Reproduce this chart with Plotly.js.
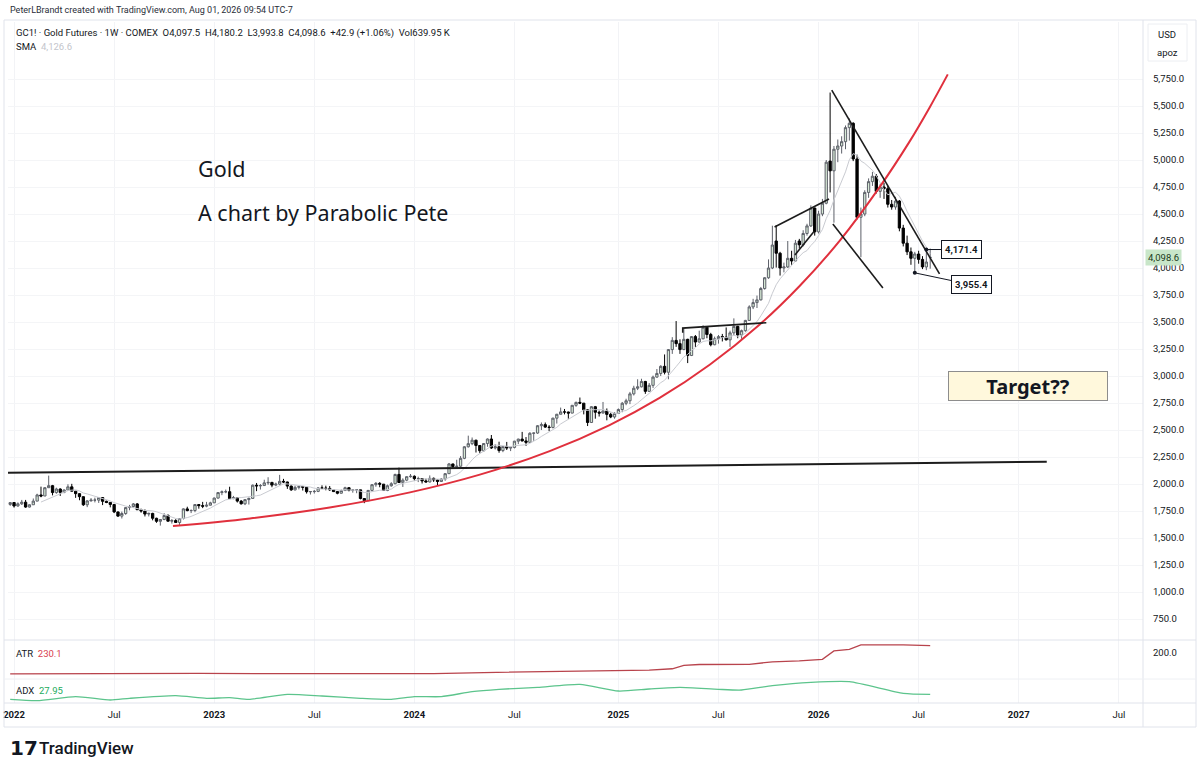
<!DOCTYPE html>
<html><head><meta charset="utf-8">
<script src="https://cdn.plot.ly/plotly-3.0.1.min.js"></script>
<style>html,body{margin:0;padding:0;background:#fff;}#chart{width:1200px;height:772px;}</style>
</head><body><div id="chart"></div>
<script>
// ---------- DATA (weekly GC1! candles, first bar week of 2021-12-27) ----------
const firstWeek = '2021-12-27';
const opens = [
1811,
1829,1797,1817,1832,1787,1808,1842,1899,1889,1966,1985,1921,1954,1923,1945,1974,1934,1911,1883,1808,1844,1851,1851,1875,1840,1830,1811,1742,1703,1727,1782,1792,1816,1762,1750,1722,1728,1683,1655,1672,1709,1656,1662,1644,1681,1770,1754,1755,1810,1800,1795,1804,
1826,1870,1921,1928,1929,1865,1874,1842,1817,1856,1867,1989,1983,1986,2011,2015,1990,1999,2025,2019,1981,1946,1969,1977,1970,1929,1930,1932,1964,1962,1960,1946,1930,1915,1940,1966,1942,1945,1946,1866,1845,1941,1994,2006,1999,1940,1984,2003,2089,2014,2036,2068,
2072,2050,2051,2029,2019,2053,2038,2024,2046,2096,2186,2161,2165,2238,2345,2374,2406,2357,2308,2375,2417,2334,2345,2310,2348,2333,2339,2397,2416,2399,2386,2470,2472,2540,2550,2527,2524,2610,2646,2668,2667,2657,2729,2756,2749,2687,2570,2716,2665,2657,2676,2645,2621,
2654,2690,2748,2771,2835,2887,2900,2950,2858,2914,2990,3024,3090,3035,3245,3330,3300,3245,3340,3190,3365,3315,3345,3452,3385,3290,3345,3365,3360,3335,3400,3460,3380,3420,3515,3640,3680,3705,3810,3910,4000,4250,4137,4000,4010,4090,4065,4250,4215,4320,4390,4555,
4335,4500,4600,4990,4900,5100,5130,5170,5300,5340,5010,4470,4500,4700,4800,4850,4710,4750,4735,4590,4565,4620,4370,4230,4150,4090,4130,4080,4010,4097.5
];
const highs = [
1831,
1830,1830,1853,1853,1812,1866,1910,1976,1970,2078,1992,1966,1960,1950,1998,2002,1935,1915,1885,1850,1870,1874,1877,1880,1847,1832,1813,1745,1745,1784,1807,1824,1824,1772,1765,1735,1734,1688,1675,1730,1720,1676,1675,1683,1775,1790,1765,1815,1815,1835,1835,1836,
1875,1925,1940,1949,1975,1890,1880,1852,1859,1875,1996,2010,2000,2040,2063,2020,2013,2085,2048,2022,1986,1985,1985,1983,1972,1935,1945,1970,1988,1985,1982,1950,1935,1949,1975,1970,1953,1950,1946,1870,1945,2000,2019,2018,2000,1995,2017,2095,2152,2053,2071,2093,
2080,2068,2055,2050,2080,2060,2040,2055,2100,2195,2188,2225,2259,2350,2448,2431,2410,2360,2380,2422,2454,2370,2392,2350,2390,2345,2400,2420,2483,2435,2480,2475,2546,2570,2570,2545,2614,2650,2708,2695,2670,2730,2763,2801,2750,2690,2720,2723,2680,2760,2700,2660,2665,
2700,2760,2790,2853,2910,2970,2975,2955,2935,3004,3065,3100,3200,3250,3360,3509,3340,3440,3345,3370,3380,3420,3470,3455,3400,3365,3380,3390,3450,3420,3534,3465,3430,3520,3655,3715,3745,3825,3915,4080,4392,4398,4150,4050,4250,4160,4260,4270,4350,4410,4580,4560,
4530,4640,5000,5625,5130,5190,5220,5320,5385,5350,5050,4560,4720,4830,4890,4870,4780,4790,4760,4630,4660,4630,4400,4300,4190,4150,4160,4110,4171.4,4180.2
];
const lows = [
1798,
1782,1790,1806,1780,1783,1807,1842,1878,1889,1964,1895,1910,1890,1915,1945,1931,1872,1850,1797,1786,1838,1830,1825,1805,1823,1784,1731,1696,1681,1715,1757,1782,1760,1735,1700,1700,1664,1641,1615,1665,1654,1634,1640,1616,1672,1748,1731,1739,1772,1777,1785,1801,
1825,1865,1897,1915,1862,1860,1829,1810,1805,1810,1867,1934,1949,1986,1993,1970,1980,1988,2010,1955,1937,1940,1950,1940,1912,1903,1912,1925,1958,1942,1937,1926,1905,1913,1935,1932,1920,1915,1858,1823,1845,1930,1975,1970,1936,1934,1975,1998,2012,1973,2026,2059,
2030,2018,2005,2016,2015,2020,1985,2020,2030,2095,2150,2150,2160,2230,2338,2360,2292,2285,2300,2345,2325,2320,2290,2295,2315,2305,2330,2370,2395,2353,2380,2400,2465,2500,2520,2490,2515,2560,2645,2645,2605,2655,2715,2740,2645,2537,2565,2605,2625,2655,2590,2610,2605,
2650,2665,2730,2740,2820,2870,2895,2835,2855,2890,2985,3000,3015,2970,3205,3270,3205,3240,3120,3185,3270,3310,3340,3350,3275,3285,3300,3320,3330,3270,3380,3350,3345,3410,3510,3620,3630,3700,3800,3900,3990,4004,3930,3960,4000,4030,4060,4180,4200,4300,4380,4300,
4320,4480,4590,4700,4420,4980,5060,5100,5180,4990,4450,4100,4480,4650,4760,4690,4650,4640,4560,4540,4540,4340,4200,4120,4030,3955.4,4040,3990,3980,3993.8
];
const closes = [
1828,
1797,1817,1832,1787,1808,1842,1899,1889,1966,1985,1921,1954,1923,1945,1974,1934,1911,1883,1808,1844,1851,1851,1875,1840,1830,1811,1742,1703,1727,1782,1792,1816,1762,1750,1722,1728,1683,1655,1672,1709,1656,1662,1644,1681,1770,1754,1755,1810,1800,1795,1804,1826,
1870,1921,1928,1929,1865,1874,1842,1817,1856,1867,1989,1983,1986,2011,2015,1990,1999,2025,2019,1981,1946,1969,1977,1970,1929,1930,1932,1964,1962,1960,1946,1930,1915,1940,1966,1942,1945,1946,1866,1845,1941,1994,2006,1999,1940,1984,2003,2089,2014,2036,2068,2072,
2050,2051,2029,2019,2053,2038,2024,2046,2096,2186,2161,2165,2238,2345,2374,2406,2357,2308,2375,2417,2334,2345,2310,2348,2333,2339,2397,2416,2399,2386,2470,2472,2540,2550,2527,2524,2610,2646,2668,2667,2657,2729,2756,2749,2687,2570,2716,2665,2657,2676,2645,2621,2654,
2690,2748,2771,2835,2887,2900,2950,2858,2914,2990,3024,3090,3035,3245,3330,3300,3245,3340,3190,3365,3315,3345,3452,3385,3290,3345,3365,3360,3335,3400,3460,3380,3420,3515,3640,3680,3705,3810,3910,4000,4213,4137,4000,4010,4090,4065,4230,4215,4320,4390,4555,4335,
4500,4600,4980,4900,5100,5130,5170,5300,5340,5010,4470,4500,4700,4800,4850,4710,4750,4735,4590,4565,4620,4370,4230,4150,4090,4130,4080,4010,4055.7,4098.6
];
const smaLength = 9;

// indicator panes
const atrDates = ['2021-12-27','2022-04-04','2022-08-01','2022-12-05','2023-04-03','2023-08-07','2023-11-06','2024-02-05','2024-05-06','2024-08-05','2024-11-04','2025-01-06','2025-03-03','2025-04-14','2025-05-05','2025-06-02','2025-09-01','2025-10-13','2025-12-01','2026-01-12','2026-02-02','2026-03-02','2026-03-23','2026-06-08','2026-07-27'];
const atrValues = [103,104,105,105,104,104,101,104,109,112,115,117,120,126,141,145,146,157,161,168,206,213,233,233,230.1];
const adxDates = ['2021-12-27','2022-02-14','2022-04-25','2022-06-27','2022-08-01','2022-10-24','2022-12-19','2023-01-30','2023-03-06','2023-05-15','2023-07-17','2023-09-25','2023-11-20','2024-01-01','2024-02-19','2024-04-15','2024-06-03','2024-08-12','2024-10-28','2025-01-06','2025-03-03','2025-04-28','2025-07-07','2025-08-18','2025-10-13','2025-12-22','2026-03-02','2026-06-08','2026-07-27'];
const adxValues = [19.6,17.4,24.1,18.5,21.3,25.7,21.3,22.4,19.6,27.9,25.2,21.3,19.6,24.1,24.1,32.4,36.3,39.6,44.6,33.5,36.8,39.6,36.3,35.2,42.4,47.9,49.1,29.6,27.95];

// drawings (anchored in date/price)
const supportDates = ['2021-12-23','2027-02-24'];
const supportPrices = [2104,2206];
const parabolaDates = ['2022-10-19','2023-03-08','2023-07-31','2023-12-24','2024-04-29','2024-09-03','2024-12-21','2025-03-22','2025-06-21','2025-09-20','2025-12-02','2026-02-13','2026-04-26','2026-06-20','2026-07-26','2026-08-28'];
const parabolaPrices = [1611,1682,1783,1923,2087,2305,2546,2797,3104,3477,3836,4256,4749,5175,5487,5793];
const flagDates = ['2025-05-03','2025-05-03','2025-10-02'];
const flagPrices = [3400,3444,3494];
const wedgeUpperDates = ['2025-10-17','2026-01-24'];
const wedgeUpperPrices = [4380,4639];
const wedgeLowerDates = ['2025-11-23','2025-12-27'];
const wedgeLowerPrices = [4120,4333];
const channelUpperDates = ['2026-01-29','2026-08-13'];
const channelUpperPrices = [5648,3945];
const channelLowerDates = ['2026-01-31','2026-05-02'];
const channelLowerPrices = [4407,3815];
const markDates = ['2026-07-20','2026-06-29'];
const markPrices = [4171.4,3955.4];
const markLabels = ['4,171.4','3,955.4'];
const targetDate = '2027-01-20';
const targetPrice = 2912;
const lastPrice = 4098.6;

// axis ticks
const priceTicks = [750,1000,1250,1500,1750,2000,2250,2500,2750,3000,3250,3500,3750,4000,4250,4500,4750,5000,5250,5500,5750];
const timeTickDates = ['2022-01-03','2022-07-04','2023-01-02','2023-07-03','2024-01-01','2024-07-01','2025-01-06','2025-07-07','2026-01-05','2026-07-06','2027-01-04','2027-07-05'];
const timeTickLabels = ['2022','Jul','2023','Jul','2024','Jul','2025','Jul','2026','Jul','2027','Jul'];

// ---------- BUILD ----------
const dates = opens.map((_, i) => {
  const d = new Date(firstWeek + 'T00:00:00Z');
  d.setUTCDate(d.getUTCDate() + 7 * i);
  return d.toISOString().slice(0, 10);
});
const smaDates = [], smaValues = [];
for (let i = smaLength - 1; i < closes.length; i++) {
  let s = 0;
  for (let k = i - smaLength + 1; k <= i; k++) s += closes[k];
  smaDates.push(dates[i]); smaValues.push(s / smaLength);
}

const FONT = 'Roboto, "Liberation Sans", sans-serif';
const INK = '#131722';
const px = v => (v - 8) / 1135;
const py = v => (703 - v) / 681;

const line = (x, y, color, width, extra) => Object.assign({
  type: 'scatter', mode: 'lines', x, y, xaxis: 'x', yaxis: 'y',
  line: {color, width}, hoverinfo: 'skip', showlegend: false, cliponaxis: false
}, extra || {});

const traces = [
  line(smaDates, smaValues, '#c9cbd1', 1),
  {
    type: 'candlestick', x: dates, open: opens, high: highs, low: lows, close: closes,
    xaxis: 'x', yaxis: 'y', hoverinfo: 'skip', showlegend: false, whiskerwidth: 0,
    increasing: {line: {color: '#5d6069', width: 1}, fillcolor: '#d6e9d5'},
    decreasing: {line: {color: '#000000', width: 1}, fillcolor: '#000000'}
  },
  line(supportDates, supportPrices, '#1c1c1c', 2),
  line(parabolaDates, parabolaPrices, '#e0303d', 2, {line: {color: '#e0303d', width: 2, shape: 'spline', smoothing: 1}}),
  line(flagDates, flagPrices, '#1c1c1c', 1.6),
  line(wedgeUpperDates, wedgeUpperPrices, '#1c1c1c', 1.6),
  line(wedgeLowerDates, wedgeLowerPrices, '#1c1c1c', 1.6),
  line(channelUpperDates, channelUpperPrices, '#1c1c1c', 1.6),
  line(channelLowerDates, channelLowerPrices, '#1c1c1c', 1.6),
  {type: 'scatter', mode: 'markers', x: markDates, y: markPrices, xaxis: 'x', yaxis: 'y',
   marker: {color: '#131722', size: 4}, hoverinfo: 'skip', showlegend: false},
  {type: 'scatter', mode: 'lines', x: atrDates, y: atrValues, xaxis: 'x', yaxis: 'y2',
   line: {color: '#b8434c', width: 1.3}, hoverinfo: 'skip', showlegend: false},
  {type: 'scatter', mode: 'lines', x: adxDates, y: adxValues, xaxis: 'x', yaxis: 'y3',
   line: {color: '#5cc48c', width: 1.3, shape: 'spline', smoothing: 0.6}, hoverinfo: 'skip', showlegend: false}
];

const annotations = [
  {xref: 'paper', yref: 'paper', x: px(8), y: py(10), xanchor: 'left', yanchor: 'middle', showarrow: false,
   text: 'PeterLBrandt created with TradingView.com, Aug 01, 2026 09:54 UTC-7', font: {family: FONT, size: 9, color: '#2a2e39'}},
  {xref: 'paper', yref: 'paper', x: px(14), y: py(33), xanchor: 'left', yanchor: 'middle', showarrow: false,
   text: 'GC1! · Gold Futures · 1W · COMEX\u00a0\u00a0O4,097.5\u00a0\u00a0H4,180.2\u00a0\u00a0L3,993.8\u00a0\u00a0C4,098.6\u00a0\u00a0+42.9 (+1.06%)\u00a0\u00a0Vol639.95\u00a0K', font: {family: FONT, size: 9.5, color: INK}},
  {xref: 'paper', yref: 'paper', x: px(14), y: py(46), xanchor: 'left', yanchor: 'middle', showarrow: false,
   text: 'SMA\u00a0\u00a0<span style="color:#c3c5cb">4,126.6</span>', font: {family: FONT, size: 9.5, color: INK}},
  {xref: 'paper', yref: 'paper', x: px(14), y: py(653), xanchor: 'left', yanchor: 'middle', showarrow: false,
   text: 'ATR\u00a0\u00a0<span style="color:#d9414f">230.1</span>', font: {family: FONT, size: 9.5, color: INK}},
  {xref: 'paper', yref: 'paper', x: px(14), y: py(690), xanchor: 'left', yanchor: 'middle', showarrow: false,
   text: 'ADX\u00a0\u00a0<span style="color:#22ab5c">27.95</span>', font: {family: FONT, size: 9.5, color: INK}},
  {xref: 'paper', yref: 'paper', x: px(1167), y: py(34), xanchor: 'center', yanchor: 'middle', showarrow: false,
   text: 'USD', font: {family: FONT, size: 9.5, color: INK}},
  {xref: 'paper', yref: 'paper', x: px(1167), y: py(52), xanchor: 'center', yanchor: 'middle', showarrow: false,
   text: 'apoz', font: {family: FONT, size: 9.5, color: INK}},
  {xref: 'paper', yref: 'paper', x: px(196), y: py(168), xanchor: 'left', yanchor: 'middle', showarrow: false,
   text: 'Gold', font: {family: '"Noto Sans", sans-serif', size: 21.5, color: INK}},
  {xref: 'paper', yref: 'paper', x: px(196), y: py(213), xanchor: 'left', yanchor: 'middle', showarrow: false,
   text: 'A chart by Parabolic Pete', font: {family: '"Noto Sans", sans-serif', size: 21.5, color: INK}},
  {xref: 'x', yref: 'y', x: targetDate, y: targetPrice, xanchor: 'center', yanchor: 'middle', showarrow: false,
   text: '<b>Target??</b>', width: 156, height: 26, bgcolor: '#fff8dc', bordercolor: '#8d8d8d', borderwidth: 1, borderpad: 1,
   font: {family: '"Noto Sans", sans-serif', size: 20, color: INK}},
  {xref: 'x', yref: 'y', x: markDates[0], y: markPrices[0], ax: 35, ay: 0, showarrow: true, arrowhead: 0, arrowwidth: 1, arrowcolor: INK,
   text: '<b>' + markLabels[0] + '</b>', bgcolor: '#ffffff', bordercolor: INK, borderwidth: 1, borderpad: 3,
   font: {family: FONT, size: 9.5, color: INK}},
  {xref: 'x', yref: 'y', x: markDates[1], y: markPrices[1], ax: 57, ay: 12, showarrow: true, arrowhead: 0, arrowwidth: 1, arrowcolor: INK,
   text: '<b>' + markLabels[1] + '</b>', bgcolor: '#ffffff', bordercolor: INK, borderwidth: 1, borderpad: 3,
   font: {family: FONT, size: 9.5, color: INK}},
  {xref: 'paper', yref: 'y', x: 1, y: lastPrice, xanchor: 'left', yanchor: 'middle', xshift: 2, showarrow: false,
   text: lastPrice.toLocaleString('en-US', {minimumFractionDigits: 1}), bgcolor: '#c8e6c9', borderpad: 2,
   font: {family: FONT, size: 9.5, color: '#1b3b20'}},
  {xref: 'paper', yref: 'paper', x: px(8), y: py(748), xanchor: 'left', yanchor: 'middle', showarrow: false,
   text: '<b>17</b>', font: {family: '"DejaVu Sans", sans-serif', size: 20, color: '#131722'}},
  {xref: 'paper', yref: 'paper', x: px(37), y: py(748), xanchor: 'left', yanchor: 'middle', showarrow: false,
   text: 'TradingView', font: {family: '"Roboto", sans-serif', size: 17, weight: 500, color: '#131722'}}
];

const SEP = '#e0e3eb';
const shapes = [
  {type: 'rect', xref: 'paper', yref: 'paper', x0: px(4), x1: px(1196), y0: py(727), y1: py(20), line: {color: SEP, width: 1}},
  {type: 'line', xref: 'paper', yref: 'paper', x0: px(1143), x1: px(1143), y0: py(727), y1: py(20), line: {color: SEP, width: 1}},
  {type: 'line', xref: 'paper', yref: 'paper', x0: px(4), x1: px(1196), y0: py(640), y1: py(640), line: {color: SEP, width: 1}},
  {type: 'line', xref: 'paper', yref: 'paper', x0: px(4), x1: px(1196), y0: py(679), y1: py(679), line: {color: '#eef0f4', width: 1}},
  {type: 'line', xref: 'paper', yref: 'paper', x0: px(4), x1: px(1196), y0: py(703), y1: py(703), line: {color: SEP, width: 1}},
  {type: 'rect', xref: 'paper', yref: 'paper', x0: px(1148), x1: px(1187), y0: py(61), y1: py(24), line: {color: '#eceef2', width: 1}}
];

const layout = {
  width: 1200, height: 772,
  margin: {l: 8, r: 57, t: 22, b: 69, pad: 0},
  paper_bgcolor: '#ffffff', plot_bgcolor: '#ffffff',
  showlegend: false, dragmode: false, boxgap: 0.15,
  font: {family: FONT, size: 9.5, color: INK},
  xaxis: {
    type: 'date', range: ['2021-12-23', '2027-08-18'], anchor: 'y3',
    tickvals: timeTickDates, ticktext: timeTickLabels.map(t => /^\d{4}$/.test(t) ? '<b>' + t + '</b>' : t),
    ticks: '', ticklabelstandoff: 4,
    showgrid: true, gridcolor: '#f2f3f6', gridwidth: 1, zeroline: false, showline: false,
    rangeslider: {visible: false}, tickfont: {family: FONT, size: 9.5, color: INK}
  },
  yaxis: {
    domain: [py(640), 1], range: [556, 6278], side: 'right', anchor: 'x',
    tickvals: priceTicks, tickformat: ',.1f', ticks: '', ticklabelstandoff: 9,
    showgrid: true, gridcolor: '#f4f5f7', zeroline: false, showline: false,
    tickfont: {family: FONT, size: 9.5, color: INK}
  },
  yaxis2: {
    domain: [py(679), py(640)], range: [80, 255], side: 'right', anchor: 'x',
    tickvals: [200], ticktext: ['200.0'], ticks: '', ticklabelstandoff: 9,
    showgrid: false, zeroline: false, showline: false, tickfont: {family: FONT, size: 9.5, color: INK}
  },
  yaxis3: {
    domain: [0, py(679)], range: [13.5, 53.5], side: 'right', anchor: 'x',
    showticklabels: false, ticks: '', showgrid: false, zeroline: false, showline: false
  },
  annotations, shapes
};

Plotly.newPlot('chart', traces, layout, {staticPlot: true, displayModeBar: false});
</script>
</body></html>
